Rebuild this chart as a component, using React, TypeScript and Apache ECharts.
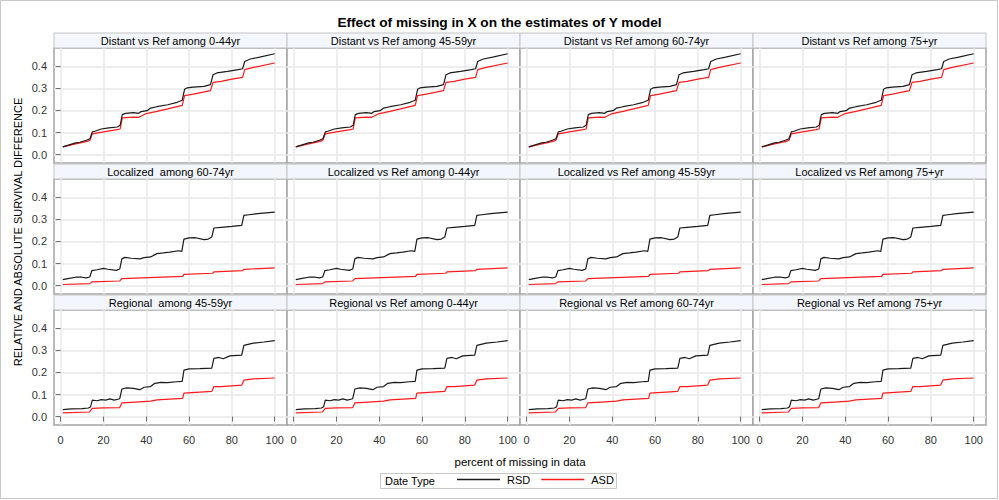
import React, { useEffect, useRef } from "react";
import * as echarts from "echarts";

const xTicks = [0, 20, 40, 60, 80, 100];
const yTicks = [0, 0.1, 0.2, 0.3, 0.4];

const panelTitles = [
  ["Distant vs Ref among 0-44yr", "Distant vs Ref among 45-59yr", "Distant vs Ref among 60-74yr", "Distant vs Ref among 75+yr"],
  ["Localized  among 60-74yr", "Localized vs Ref among 0-44yr", "Localized vs Ref among 45-59yr", "Localized vs Ref among 75+yr"],
  ["Regional  among 45-59yr", "Regional vs Ref among 0-44yr", "Regional vs Ref among 60-74yr", "Regional vs Ref among 75+yr"],
];

// Distant
const distantRsdX = [1, 4, 7, 9, 12, 13.7, 14.8, 16, 19, 22.5, 26.5, 27.8, 28.8, 30.3, 34, 36.5, 37.6, 40.4, 42, 45, 50, 54.4, 56.8, 57.9, 59, 62, 67, 70, 71.2, 73, 78, 83, 85, 86, 88.6, 93, 100];
const distantRsdY = [0.035, 0.044, 0.053, 0.056, 0.065, 0.072, 0.103, 0.106, 0.116, 0.121, 0.125, 0.133, 0.181, 0.187, 0.19, 0.187, 0.195, 0.199, 0.211, 0.217, 0.226, 0.237, 0.246, 0.296, 0.302, 0.306, 0.309, 0.317, 0.362, 0.37, 0.377, 0.385, 0.389, 0.422, 0.433, 0.442, 0.457];
const distantAsdX = [1, 7, 12.4, 13.7, 14.8, 20, 26.4, 27.8, 28.8, 34, 36.5, 40, 45, 50, 56.8, 57.9, 62, 70, 71.2, 75, 80, 85, 86, 90, 100];
const distantAsdY = [0.035, 0.049, 0.06, 0.065, 0.094, 0.103, 0.113, 0.116, 0.166, 0.17, 0.169, 0.186, 0.196, 0.207, 0.223, 0.267, 0.274, 0.29, 0.327, 0.332, 0.342, 0.35, 0.385, 0.395, 0.415];

// Localized
const localizedRsdX = [1, 4, 7, 10, 12, 13.6, 14.6, 17, 20, 22, 26, 27.6, 28.6, 30, 33, 37, 39, 42, 45, 48, 51, 55, 56.6, 57.6, 60, 63, 67, 69, 70.6, 71.6, 75, 80, 84.6, 85.6, 88, 92, 100];
const localizedRsdY = [0.027, 0.033, 0.038, 0.038, 0.035, 0.039, 0.068, 0.072, 0.078, 0.074, 0.069, 0.075, 0.121, 0.128, 0.124, 0.121, 0.127, 0.13, 0.145, 0.148, 0.152, 0.158, 0.155, 0.211, 0.216, 0.217, 0.208, 0.211, 0.22, 0.261, 0.264, 0.268, 0.273, 0.318, 0.321, 0.326, 0.333];
const localizedAsdX = [1, 13.6, 14.6, 27.6, 28.6, 57, 57.6, 71, 71.6, 85, 85.6, 100];
const localizedAsdY = [0.005, 0.009, 0.017, 0.021, 0.032, 0.042, 0.051, 0.056, 0.062, 0.068, 0.074, 0.08];

// Regional
const regionalRsdX = [1, 5, 10, 13, 14, 14.8, 17, 19, 21, 23, 25, 27.6, 28.6, 31, 34, 37, 39, 42, 44, 47, 50, 54, 56.8, 57.6, 60, 65, 70.6, 71.6, 74, 76, 79, 84.6, 85.6, 90, 95, 100];
const regionalRsdY = [0.032, 0.035, 0.036, 0.039, 0.045, 0.075, 0.072, 0.077, 0.075, 0.08, 0.075, 0.081, 0.125, 0.13, 0.128, 0.122, 0.133, 0.136, 0.151, 0.155, 0.154, 0.158, 0.16, 0.211, 0.216, 0.217, 0.22, 0.264, 0.268, 0.262, 0.275, 0.279, 0.323, 0.333, 0.338, 0.344];
const regionalAsdX = [1, 13.5, 14.8, 20, 27.6, 28.6, 35, 42, 45, 57, 57.6, 70.6, 71.6, 75, 84.6, 85.6, 90, 100];
const regionalAsdY = [0.017, 0.021, 0.037, 0.04, 0.041, 0.062, 0.066, 0.07, 0.076, 0.083, 0.106, 0.114, 0.136, 0.136, 0.143, 0.165, 0.171, 0.175];

const rowRsd = [
  [distantRsdX, distantRsdY],
  [localizedRsdX, localizedRsdY],
  [regionalRsdX, regionalRsdY],
];
const rowAsd = [
  [distantAsdX, distantAsdY],
  [localizedAsdX, localizedAsdY],
  [regionalAsdX, regionalAsdY],
];

const FONT = "'Liberation Sans', Arial, sans-serif";

export default function App() {
  const ref = useRef<HTMLDivElement>(null);
  useEffect(() => {
    if (!ref.current) return;
    const chart = echarts.init(ref.current, undefined, { renderer: "svg" });
    const colLeft = [54, 287, 520, 753];
    const rowTop = [33, 164, 295];
    const colW = 233;
    const headH = 15;
    const plotH = 115;

    const grids: any[] = [];
    const xAxes: any[] = [];
    const yAxes: any[] = [];
    const series: any[] = [];
    const graphics: any[] = [];

    graphics.push({
      type: "rect",
      shape: { x: 0.5, y: 0.5, width: 997, height: 498 },
      style: { fill: "none", stroke: "#c8c8c8", lineWidth: 1 },
      silent: true,
    });

    for (let r = 0; r < 3; r++) {
      for (let c = 0; c < 4; c++) {
        const idx = r * 4 + c;
        grids.push({
          left: colLeft[c],
          top: rowTop[r] + headH,
          width: colW,
          height: plotH,
          show: true,
          backgroundColor: "#fff",
          borderColor: "#a4a4a4",
          borderWidth: 1.5,
        });
        xAxes.push({
          type: "value",
          gridIndex: idx,
          min: -3.1,
          max: 105.75,
          axisLine: { show: false },
          axisTick: {
            show: r === 2,
            customValues: xTicks,
            length: 5,
            lineStyle: { color: "#707070" },
          },
          axisLabel: {
            show: r === 2,
            customValues: xTicks,
            margin: 9,
            fontSize: 11,
            color: "#333",
            fontFamily: FONT,
          },
          splitLine: { show: true, lineStyle: { color: "#e8e8e8", width: 1.5 } },
        });
        yAxes.push({
          type: "value",
          gridIndex: idx,
          min: -0.038,
          max: 0.483,
          axisLine: { show: false },
          axisTick: {
            show: c === 0,
            customValues: yTicks,
            length: 5,
            lineStyle: { color: "#707070" },
          },
          axisLabel: {
            show: c === 0,
            customValues: yTicks,
            margin: 7,
            fontSize: 11,
            color: "#333",
            fontFamily: FONT,
            formatter: (v: number) => v.toFixed(1),
          },
          splitLine: { show: true, lineStyle: { color: "#e8e8e8", width: 1.5 } },
        });
        const [rx, ry] = rowRsd[r];
        const [ax, ay] = rowAsd[r];
        series.push({
          name: "RSD",
          type: "line",
          xAxisIndex: idx,
          yAxisIndex: idx,
          showSymbol: false,
          symbol: "none",
          lineStyle: { color: "#1a1a1a", width: 1.2 },
          itemStyle: { color: "#1a1a1a" },
          data: rx.map((x, i) => [x, ry[i]]),
          z: 3,
        });
        series.push({
          name: "ASD",
          type: "line",
          xAxisIndex: idx,
          yAxisIndex: idx,
          showSymbol: false,
          symbol: "none",
          lineStyle: { color: "#ff1a1a", width: 1.2 },
          itemStyle: { color: "#ff1a1a" },
          data: ax.map((x, i) => [x, ay[i]]),
          z: 2,
        });
        graphics.push({
          type: "rect",
          shape: { x: colLeft[c], y: rowTop[r], width: colW, height: headH },
          style: { fill: "#f3f6fc", stroke: "#c4c4c4", lineWidth: 1 },
          silent: true,
        });
        graphics.push({
          type: "text",
          x: colLeft[c] + colW / 2,
          y: rowTop[r] + headH / 2 + 0.5,
          style: {
            text: panelTitles[r][c],
            fill: "#000",
            font: `11px ${FONT}`,
            align: "center",
            verticalAlign: "middle",
          },
          silent: true,
        });
      }
    }

    // axis titles
    graphics.push({
      type: "text",
      x: 520,
      y: 462,
      style: {
        text: "percent of missing in data",
        fill: "#000",
        font: `11.5px ${FONT}`,
        align: "center",
        verticalAlign: "middle",
      },
    });
    graphics.push({
      type: "text",
      x: 18,
      y: 232,
      rotation: Math.PI / 2,
      style: {
        text: "RELATIVE AND ABSOLUTE SURVIVAL DIFFERENCE",
        fill: "#000",
        font: `11px ${FONT}`,
        align: "center",
        verticalAlign: "middle",
      },
    });
    // legend box
    graphics.push({
      type: "rect",
      shape: { x: 380.5, y: 473.5, width: 236, height: 15 },
      style: { fill: "none", stroke: "#c8c8c8", lineWidth: 1 },
      silent: true,
    });
    graphics.push({
      type: "text",
      x: 385,
      y: 481,
      style: {
        text: "Date Type",
        fill: "#000",
        font: `11px ${FONT}`,
        align: "left",
        verticalAlign: "middle",
      },
    });

    chart.setOption({
      animation: false,
      title: {
        text: "Effect of missing in X on the estimates of Y model",
        left: "center",
        top: 10,
        textStyle: { fontSize: 13.7, fontWeight: "bold", color: "#000", fontFamily: FONT },
      },
      legend: {
        data: ["RSD", "ASD"],
        left: 457,
        top: 474,
        icon: "rect",
        itemWidth: 43,
        itemHeight: 1.5,
        itemGap: 11,
        padding: 0,
        textStyle: { fontSize: 11, color: "#000", fontFamily: FONT, padding: [0, 0, 0, 2] },
        selectedMode: false,
      },
      grid: grids,
      xAxis: xAxes,
      yAxis: yAxes,
      series,
      graphic: graphics,
    });
    return () => chart.dispose();
  }, []);
  return (
    <div
      ref={ref}
      style={{ position: "fixed", left: 0, top: 0, width: 999, height: 500, background: "#fff" }}
    />
  );
}
